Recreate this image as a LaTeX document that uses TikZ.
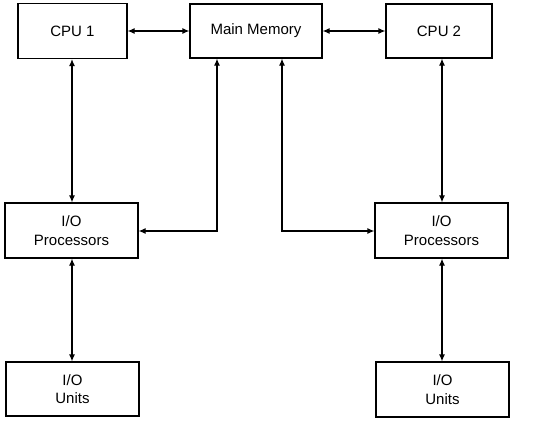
\documentclass[tikz,border=0pt]{standalone}
\usepackage{fontspec}
\setmainfont{Liberation Sans}
\usetikzlibrary{arrows.meta}
\begin{document}
\begin{tikzpicture}[x=1pt,y=-1pt,
  box/.style={draw,line width=1.2pt,inner sep=0pt,align=center,font=\fontsize{15}{18.5}\selectfont},
  link/.style={line width=1.2pt,{Latex[length=7pt,width=6pt]}-{Latex[length=7pt,width=6pt]}}]
\useasboundingbox (0,0) rectangle (546,423);
\node[box,minimum width=109pt,minimum height=55pt] (cpu1) at (72.5,31) {CPU 1};
\node[box,minimum width=132pt,minimum height=54pt] (mem) at (256,31) {Main Memory};
\node[box,minimum width=106pt,minimum height=54pt] (cpu2) at (439,31) {CPU 2};
\node[box,minimum width=133pt,minimum height=55pt] (iop1) at (71.5,230.5) {I/O\\Processors};
\node[box,minimum width=133pt,minimum height=55pt] (iop2) at (441.5,230.5) {I/O\\Processors};
\node[box,minimum width=133pt,minimum height=54pt] (iou1) at (72.5,389) {I/O\\Units};
\node[box,minimum width=133pt,minimum height=55pt] (iou2) at (442.5,389.5) {I/O\\Units};
\draw[link] (cpu1.east) -- (mem.west);
\draw[link] (mem.east) -- (cpu2.west);
\draw[link] (cpu1.south -| 72,0) -- (iop1.north -| 72,0);
\draw[link] (cpu2.south -| 442,0) -- (iop2.north -| 442,0);
\draw[link] (mem.south -| 217,0) |- (iop1.east |- 0,231);
\draw[link] (mem.south -| 282,0) |- (iop2.west |- 0,231);
\draw[link] (iop1.south -| 72,0) -- (iou1.north -| 72,0);
\draw[link] (iop2.south -| 442,0) -- (iou2.north -| 442,0);
\end{tikzpicture}
\end{document}
